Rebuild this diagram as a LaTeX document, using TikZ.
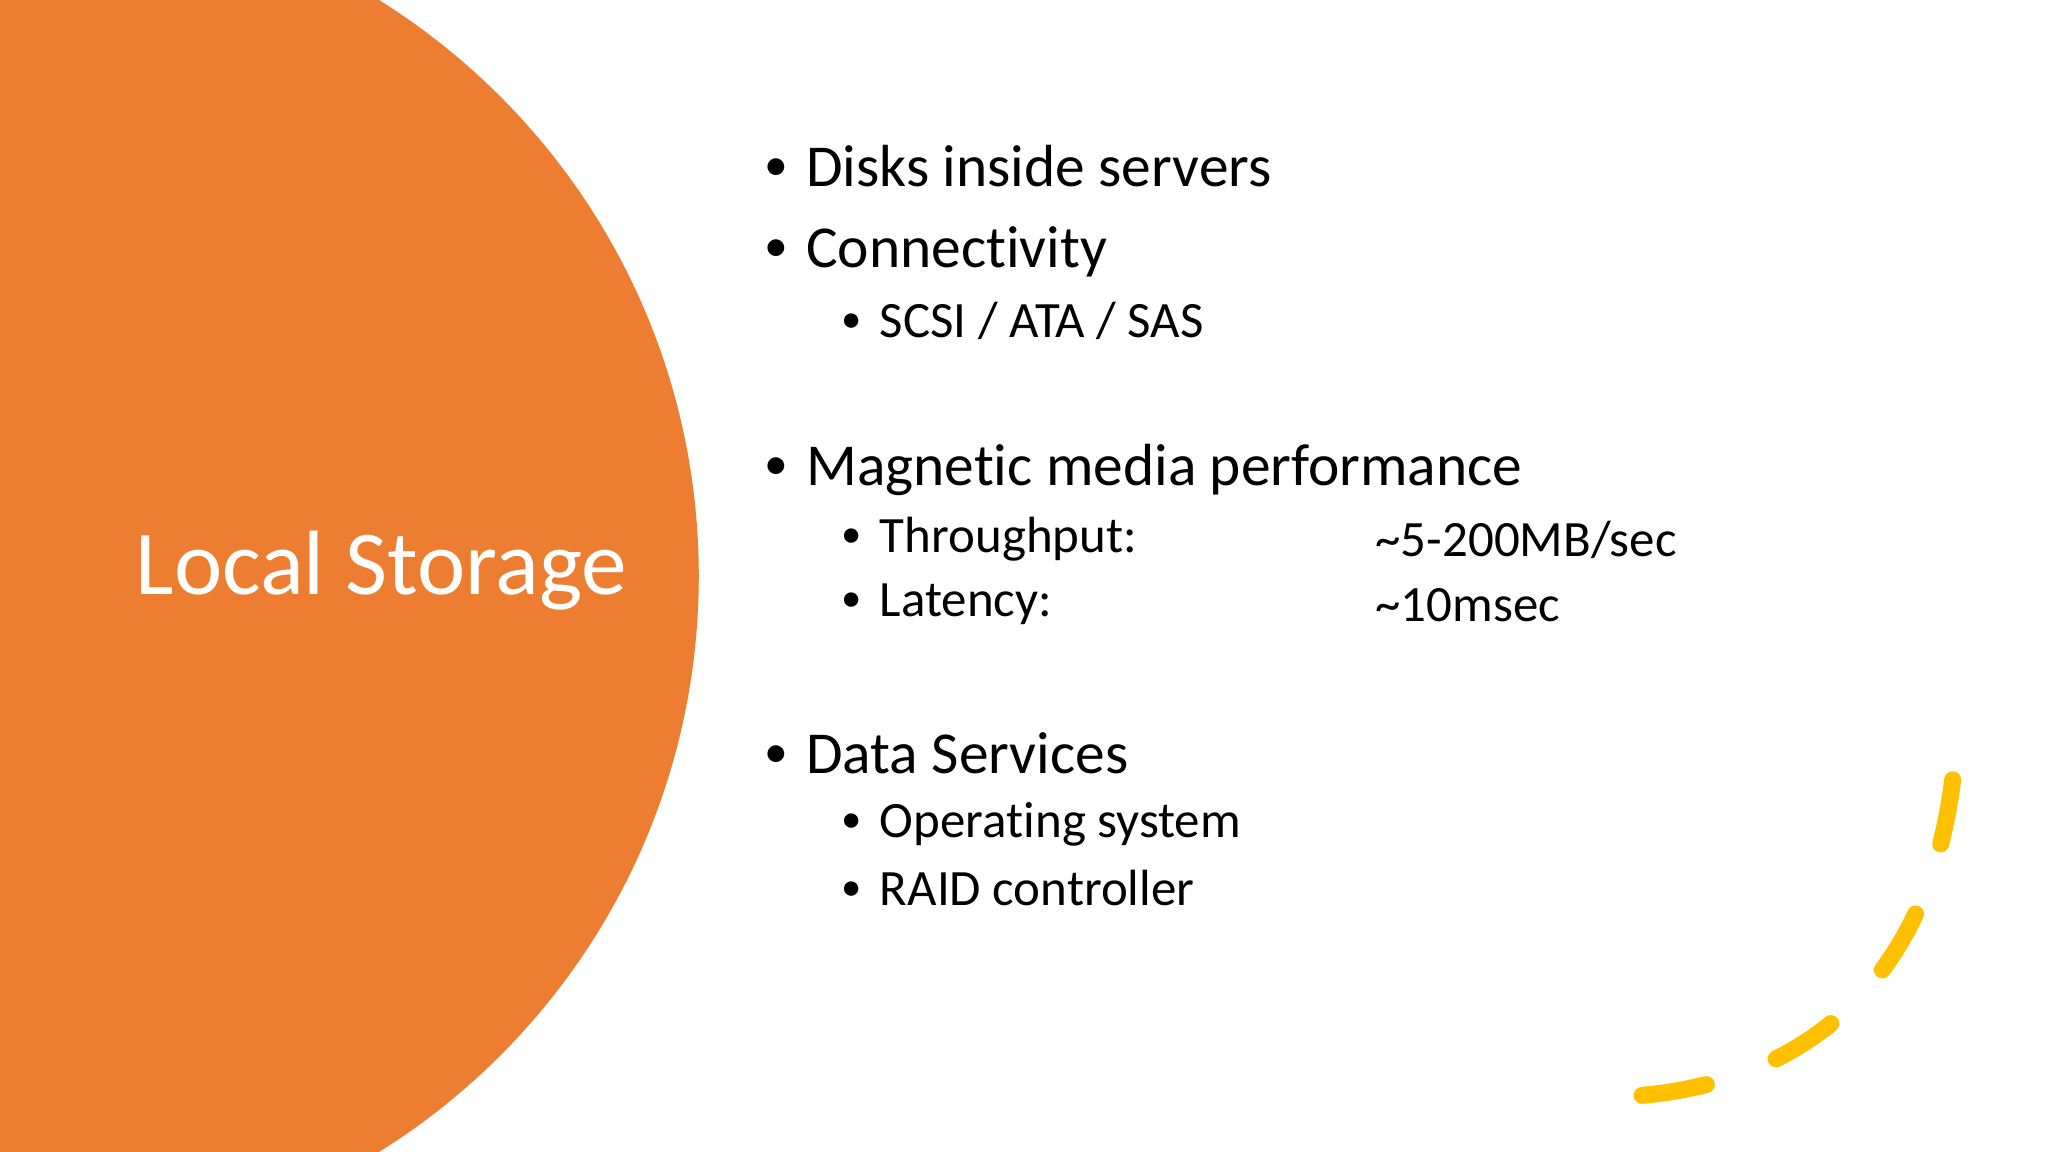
\documentclass[tikz,border=0pt]{standalone}
\usepackage{fontspec}
\setmainfont{Carlito}[Ligatures=NoCommon]
\definecolor{orng}{HTML}{ED7D31}
\definecolor{ylw}{HTML}{FFC000}
\newcommand{\bul}{\raisebox{0.1em}{\scalebox{0.8}{\textbullet}}}
\begin{document}
\begin{tikzpicture}[x=1pt,y=-1pt,
  lone/.style={anchor=west,inner sep=0pt,font=\fontsize{45.5}{50}\selectfont},
  ltwo/.style={anchor=west,inner sep=0pt,font=\fontsize{39}{44}\selectfont}]
\useasboundingbox (0,0) rectangle (1568,882);
\fill[white] (0,0) rectangle (1568,882);
\begin{scope}
\clip (0,0) rectangle (1568,882);
\fill[orng] (15.6,441) circle (519.4);
\end{scope}
\node[anchor=center,inner sep=0pt,text=white,font=\fontsize{70}{76}\selectfont] (title) at (292,437) {Local Storage};
\node[lone] (a) at (585,127) {\bul\hspace{14pt}Disks inside servers};
\node[lone] (b) at (585,193) {\bul\hspace{14pt}Connectivity};
\node[ltwo] (b1) at (644,246) {\bul\hspace{14pt}SCSI / ATA / SAS};
\node[lone] (c) at (585,360) {\bul\hspace{14pt}Magnetic media performance};
\node[ltwo] (c1) at (644,413) {\bul\hspace{14pt}Throughput:};
\node[ltwo] (c1v) at (1053,413) {\textasciitilde5-200MB/sec};
\node[ltwo] (c2) at (644,463) {\bul\hspace{14pt}Latency:};
\node[ltwo] (c2v) at (1053,463) {\textasciitilde10msec};
\node[lone] (d) at (585,577) {\bul\hspace{14pt}Data Services};
\node[ltwo] (d1) at (644,631) {\bul\hspace{14pt}Operating system};
\node[ltwo] (d2) at (644,680) {\bul\hspace{14pt}RAID controller};
\draw[ylw,line width=13pt,line cap=round,dash pattern=on 50pt off 57pt]
  (1495,597) .. controls (1475,760) and (1370,838) .. (1230,840);
\end{tikzpicture}
\end{document}
